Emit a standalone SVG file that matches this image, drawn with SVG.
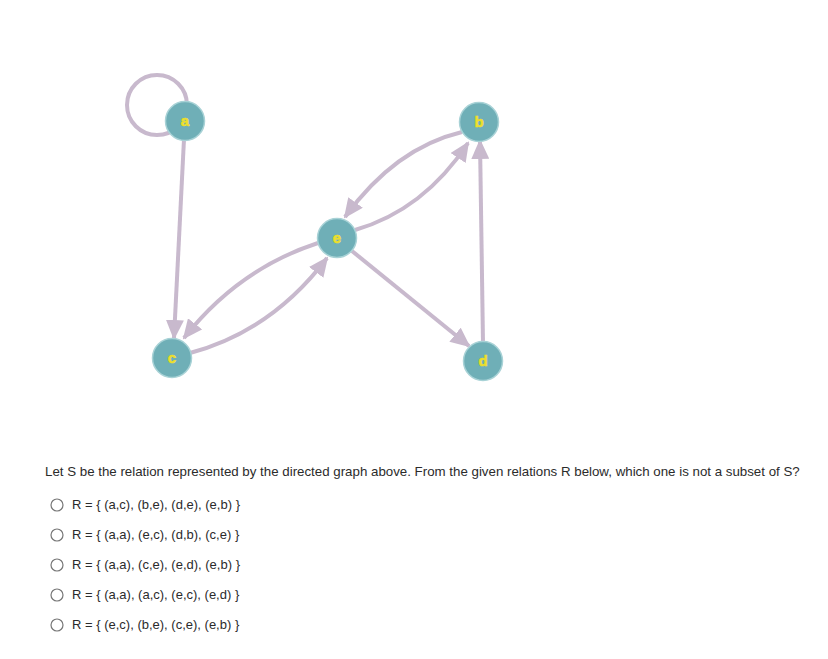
<svg xmlns="http://www.w3.org/2000/svg" width="828" height="659" viewBox="0 0 828 659">
<style>
.edge{fill:none;stroke:#c8b9cd;stroke-width:4}
.node circle{fill:#6fafb7;stroke:#a8d2d6;stroke-width:1.5}
.node text{font-family:"Liberation Sans",Arial,sans-serif;font-weight:700;font-size:15px;fill:#ecdf2c;stroke:#ecdf2c;stroke-width:0.6;text-anchor:middle}
.q{font-family:"Liberation Sans",Arial,sans-serif;font-size:13px;fill:#2b2b2b}
.radio{fill:#fff;stroke:#767676;stroke-width:1.2}
</style>
<defs>
<marker id="arr" markerUnits="userSpaceOnUse" markerWidth="20" markerHeight="18" viewBox="0 0 20 18" refX="18" refY="9" orient="auto">
<path d="M0,0 L20,9 L0,18 z" fill="#c8b9cd"/>
</marker>
</defs>
<rect width="828" height="659" fill="#fff"/>
<g id="connectors">
<circle class="edge" cx="157" cy="105" r="30"/>
<path class="edge" d="M184,139 L174,338" marker-end="url(#arr)"/>
<path class="edge" d="M462,132 Q395,148 345,217" marker-end="url(#arr)"/>
<path class="edge" d="M355,230 Q424,210 468,143" marker-end="url(#arr)"/>
<path class="edge" d="M318,243 Q238,269 184,338" marker-end="url(#arr)"/>
<path class="edge" d="M190,353 Q272,331 327,258" marker-end="url(#arr)"/>
<path class="edge" d="M352,251 L469,346" marker-end="url(#arr)"/>
<path class="edge" d="M483,343 L480,141" marker-end="url(#arr)"/>
</g>
<g id="node-a" class="node"><circle cx="185" cy="121" r="19.5"/><text x="185" y="126">a</text></g>
<g id="node-b" class="node"><circle cx="479" cy="122" r="19.5"/><text x="479" y="127">b</text></g>
<g id="node-e" class="node"><circle cx="337" cy="238" r="19.5"/><text x="337" y="243">e</text></g>
<g id="node-c" class="node"><circle cx="172" cy="358" r="19.5"/><text x="172" y="363">c</text></g>
<g id="node-d" class="node"><circle cx="483" cy="361" r="19.5"/><text x="483" y="366">d</text></g>
<g id="question">
<text class="q" x="45" y="476" style="font-size:13.3px">Let S be the relation represented by the directed graph above. From the given relations R below, which one is not a subset of S?</text>
<circle class="radio" cx="57" cy="505" r="6"/><text class="q" x="72" y="509">R = { (a,c), (b,e), (d,e), (e,b) }</text>
<circle class="radio" cx="57" cy="535" r="6"/><text class="q" x="72" y="539">R = { (a,a), (e,c), (d,b), (c,e) }</text>
<circle class="radio" cx="57" cy="565" r="6"/><text class="q" x="72" y="569">R = { (a,a), (c,e), (e,d), (e,b) }</text>
<circle class="radio" cx="57" cy="595" r="6"/><text class="q" x="72" y="599">R = { (a,a), (a,c), (e,c), (e,d) }</text>
<circle class="radio" cx="57" cy="625" r="6"/><text class="q" x="72" y="629">R = { (e,c), (b,e), (c,e), (e,b) }</text>
</g>
</svg>
